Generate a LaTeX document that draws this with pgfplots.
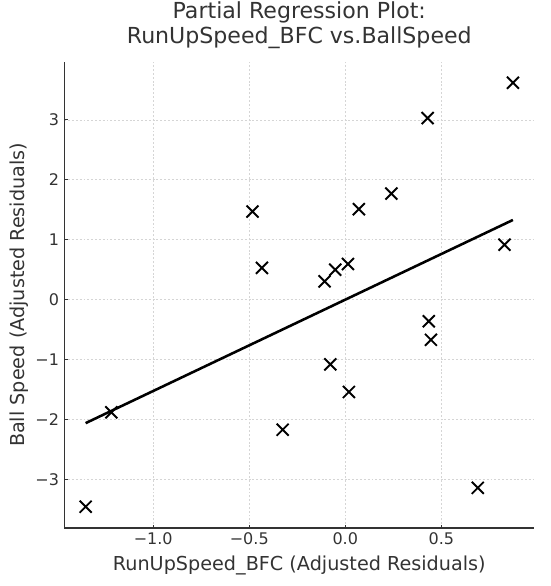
\documentclass[border=0pt]{standalone}
\usepackage{pgfplots}
\pgfplotsset{compat=1.18}
\usepackage{fontspec}
\setmainfont{DejaVu Sans}
\definecolor{txt}{HTML}{333333}
\definecolor{gridc}{HTML}{D5D5D5}
\begin{document}
\begin{tikzpicture}
\useasboundingbox (-40.2pt,-36.25pt) rectangle (303.55pt,330pt);
\begin{axis}[
  at={(0,0)}, anchor=south west,
  scale only axis,
  width=293.7pt, height=291.4pt,
  xmin=-1.463, xmax=0.984,
  ymin=-3.81, ymax=3.97,
  axis x line*=bottom, axis y line*=left,
  axis line style={-, draw=txt, line width=0.9pt},
  xtick={-1,-0.5,0,0.5},
  xticklabels={−1.0,−0.5,0.0,0.5},
  ytick={-3,-2,-1,0,1,2,3},
  yticklabels={−3,−2,−1,0,1,2,3},
  major tick length=2pt,
  tick style={draw=txt, line width=0.6pt},
  tick align=inside,
  grid=major,
  grid style={draw=gridc, line width=0.4pt, dash pattern=on 1.2pt off 1.2pt},
  ticklabel style={font=\fontsize{10}{12}\selectfont, text=txt},
  xticklabel style={anchor=base, inner sep=0pt, yshift=-10.4pt},
  yticklabel style={anchor=east, inner sep=0pt, xshift=-3.1pt},
  xlabel={RunUpSpeed\_BFC (Adjusted Residuals)},
  ylabel={Ball Speed (Adjusted Residuals)},
  label style={font=\fontsize{12}{14}\selectfont, text=txt},
  xlabel style={at={(axis description cs:0.5,0)}, anchor=base, inner sep=0pt, yshift=-26.7pt},
  ylabel style={at={(axis description cs:-0.0838,0.5)}, anchor=base, inner sep=0pt},
  title={Partial Regression Plot:\\RunUpSpeed\_BFC vs.BallSpeed},
  title style={at={(axis description cs:0.5,1)}, anchor=south, inner sep=0pt, yshift=2pt,
    align=center, font=\fontsize{13.8}{15.6}\selectfont, text=txt},
  clip=false,
]
\addplot[only marks, mark=x, mark size=5.3pt, line width=1.2pt, black] coordinates {
(0.873,3.62) (0.429,3.03) (0.240,1.77) (0.071,1.51) (-0.483,1.47)
(-0.434,0.53) (-0.108,0.305) (-0.052,0.50) (0.014,0.595) (0.829,0.917)
(0.435,-0.36) (0.446,-0.67) (-0.078,-1.08) (0.019,-1.54) (-0.326,-2.17)
(0.690,-3.14) (-1.352,-3.455) (-1.218,-1.88)
};
\addplot[black, line width=1.6pt] coordinates {(-1.352,-2.06) (0.873,1.33)};
\end{axis}
\end{tikzpicture}
\end{document}
